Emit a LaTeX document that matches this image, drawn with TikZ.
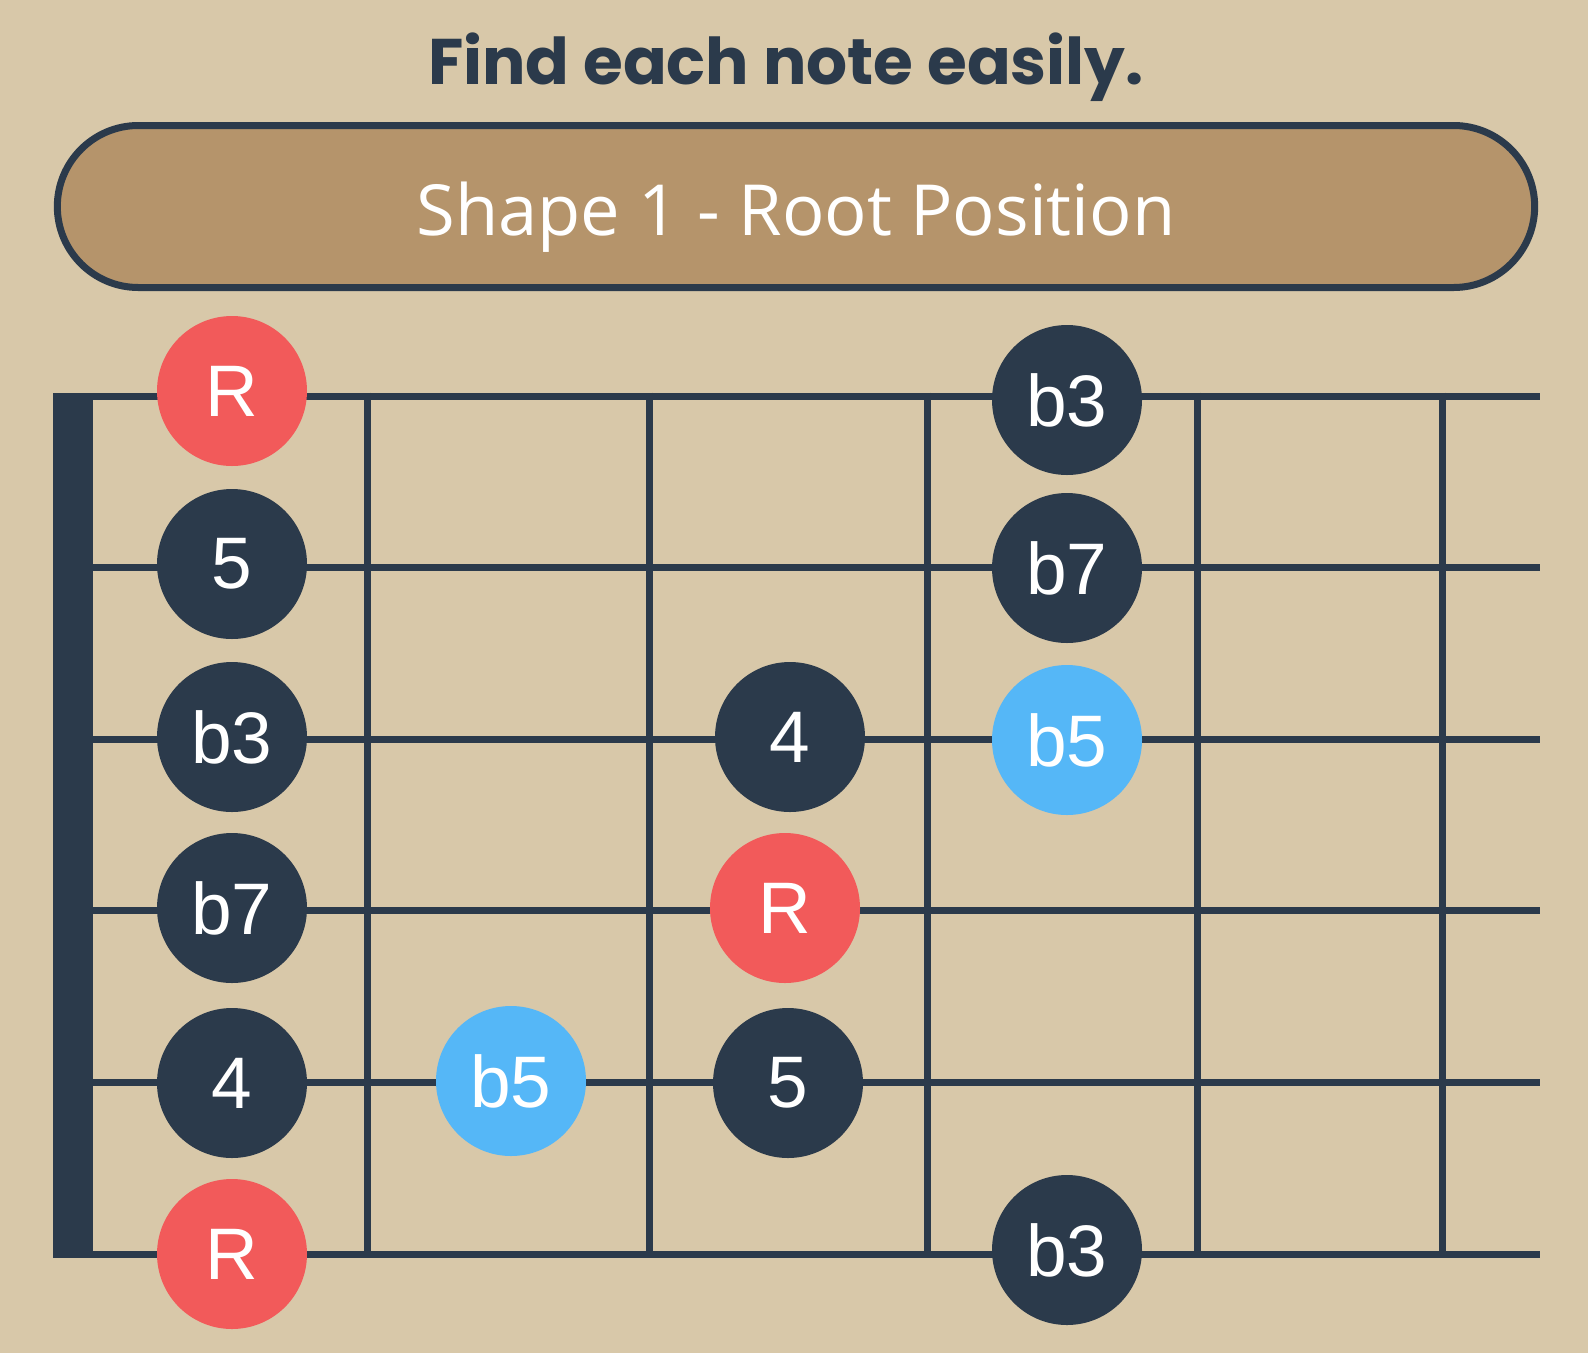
\documentclass[tikz,border=0pt]{standalone}
\usepackage{fontspec}
\usetikzlibrary{shapes.misc}
\setmainfont{Liberation Sans}
\newfontfamily\titlefont{Poppins}
\newfontfamily\bannerfont{Open Sans}
\definecolor{bg}{HTML}{D8C8A9}
\definecolor{ink}{HTML}{2B3A4B}
\definecolor{tan}{HTML}{B5946B}
\definecolor{rootred}{HTML}{F25A5A}
\definecolor{flatblue}{HTML}{55B7F7}
\tikzset{
  note/.style={circle, minimum size=150pt, inner sep=0pt, text=white,
    font=\fontsize{73}{73}\selectfont},
  darknote/.style={note, fill=ink},
  rootnote/.style={note, fill=rootred},
  bluenote/.style={note, fill=flatblue},
  stringline/.style={draw=ink, line width=7pt},
  fretline/.style={draw=ink, line width=7pt},
}
\begin{document}
\begin{tikzpicture}[x=1pt, y=-1pt]
\useasboundingbox (0,0) rectangle (1588,1353);
\fill[bg] (0,0) rectangle (1588,1353);
% title
\node[anchor=base, text=ink, font=\titlefont\bfseries\fontsize{64.5}{64.5}\selectfont] (title) at (786,84) {Find each note easily.};
% banner
\node[draw=ink, line width=7pt, fill=tan, rounded rectangle, minimum width=1484pt, minimum height=162pt] (banner) at (796,206.5) {};
\node[anchor=base, text=white, font=\bannerfont\fontsize{70.5}{70.5}\selectfont] (bannertext) at (796,235) {Shape 1 - Root Position};
% strings
\foreach \y [count=\i] in {396,567.6,739.2,910.8,1082.4,1254}{
  \coordinate (sL\i) at (60,\y);
  \coordinate (sR\i) at (1540,\y);
  \draw[stringline] (sL\i) -- (sR\i);
}
% frets
\foreach \x [count=\i] in {367,649,927,1197,1442}{
  \coordinate (fT\i) at (\x,392.5);
  \coordinate (fB\i) at (\x,1257.5);
  \draw[fretline] (fT\i) -- (fB\i);
}
% nut
\fill[ink] (53,392.5) rectangle (93,1257.5);
% notes
\node[rootnote] (n1a) at (232,391) {R};
\node[darknote] (n1d) at (1067,400) {b3};
\node[darknote] (n2a) at (232,564) {5};
\node[darknote] (n2d) at (1067,568) {b7};
\node[darknote] (n3a) at (232,737) {b3};
\node[darknote] (n3c) at (790,737) {4};
\node[bluenote] (n3d) at (1067,740) {b5};
\node[darknote] (n4a) at (232,908) {b7};
\node[rootnote] (n4c) at (785,908) {R};
\node[darknote] (n5a) at (232,1083) {4};
\node[bluenote] (n5b) at (511,1081) {b5};
\node[darknote] (n5c) at (788,1083) {5};
\node[rootnote] (n6a) at (232,1254) {R};
\node[darknote] (n6d) at (1067,1250) {b3};
\end{tikzpicture}
\end{document}
